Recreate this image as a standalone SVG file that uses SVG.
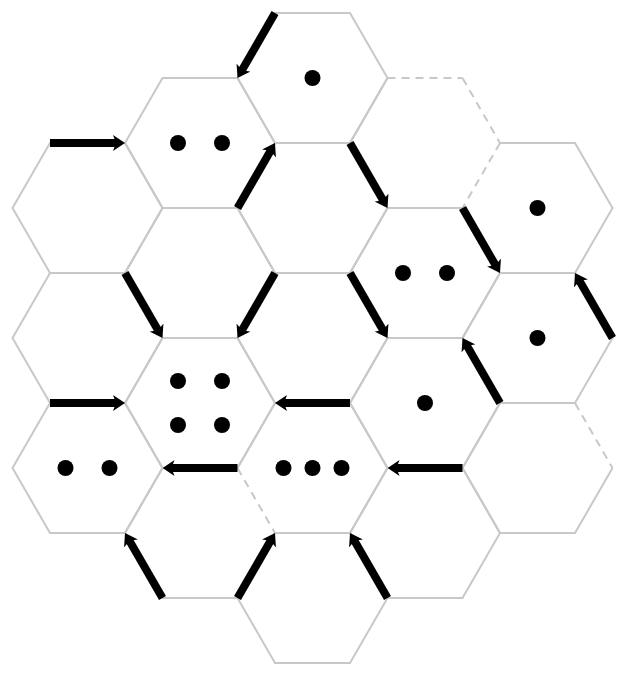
<svg xmlns="http://www.w3.org/2000/svg" width="624" height="676" viewBox="0 0 624 676">
<style>
.hex{fill:none;stroke:#c8c8c8;stroke-width:2;stroke-linejoin:miter}
.dash{fill:none;stroke:#c8c8c8;stroke-width:2;stroke-dasharray:8 6}
.arr{stroke:#000;stroke-width:8;stroke-linecap:butt;marker-end:url(#ah)}
.dot{fill:#000}
</style>
<defs>
<marker id="ah" markerUnits="userSpaceOnUse" viewBox="0 0 12 16" refX="4" refY="8" markerWidth="12" markerHeight="16" orient="auto">
<path d="M0,0 L12,8 L0,16 L3,8 z" fill="#000"/>
</marker>
</defs>
<rect width="624" height="676" fill="#fff"/>
<g id="hexes">
<g id="h0-208"><path class="hex" d="M50,143 L125,143 L162.5,208 L125,273 L50,273 L12.5,208 Z"/></g>
<g id="h0-338"><path class="hex" d="M50,273 L125,273 L162.5,338 L125,403 L50,403 L12.5,338 Z"/></g>
<g id="h0-468"><path class="hex" d="M50,403 L125,403 L162.5,468 L125,533 L50,533 L12.5,468 Z"/><circle class="dot" cx="65.5" cy="468" r="8"/><circle class="dot" cx="109.5" cy="468" r="8"/></g>
<g id="h1-143"><path class="hex" d="M162.5,78 L237.5,78 L275,143 L237.5,208 L162.5,208 L125,143 Z"/><circle class="dot" cx="178" cy="143" r="8"/><circle class="dot" cx="222" cy="143" r="8"/></g>
<g id="h1-273"><path class="hex" d="M162.5,208 L237.5,208 L275,273 L237.5,338 L162.5,338 L125,273 Z"/></g>
<g id="h1-403"><path class="hex" d="M162.5,338 L237.5,338 L275,403 L237.5,468 L162.5,468 L125,403 Z"/><circle class="dot" cx="178" cy="381" r="8"/><circle class="dot" cx="222" cy="381" r="8"/><circle class="dot" cx="178" cy="425" r="8"/><circle class="dot" cx="222" cy="425" r="8"/></g>
<g id="h1-533"><path class="hex" d="M275,533 L237.5,598 L162.5,598 L125,533 L162.5,468 L237.5,468"/></g>
<g id="h2-78"><path class="hex" d="M275,13 L350,13 L387.5,78 L350,143 L275,143 L237.5,78 Z"/><circle class="dot" cx="312.5" cy="78" r="8"/></g>
<g id="h2-208"><path class="hex" d="M275,143 L350,143 L387.5,208 L350,273 L275,273 L237.5,208 Z"/></g>
<g id="h2-338"><path class="hex" d="M275,273 L350,273 L387.5,338 L350,403 L275,403 L237.5,338 Z"/></g>
<g id="h2-468"><path class="hex" d="M237.5,468 L275,403 L350,403 L387.5,468 L350,533 L275,533"/><circle class="dot" cx="283.5" cy="468" r="8"/><circle class="dot" cx="312.5" cy="468" r="8"/><circle class="dot" cx="341.5" cy="468" r="8"/></g>
<g id="h2-598"><path class="hex" d="M275,533 L350,533 L387.5,598 L350,663 L275,663 L237.5,598 Z"/></g>
<g id="h3-143"><path class="hex" d="M462.5,208 L387.5,208 L350,143 L387.5,78"/></g>
<g id="h3-273"><path class="hex" d="M387.5,208 L462.5,208 L500,273 L462.5,338 L387.5,338 L350,273 Z"/><circle class="dot" cx="403" cy="273" r="8"/><circle class="dot" cx="447" cy="273" r="8"/></g>
<g id="h3-403"><path class="hex" d="M387.5,338 L462.5,338 L500,403 L462.5,468 L387.5,468 L350,403 Z"/><circle class="dot" cx="425" cy="403" r="8"/></g>
<g id="h3-533"><path class="hex" d="M387.5,468 L462.5,468 L500,533 L462.5,598 L387.5,598 L350,533 Z"/></g>
<g id="h4-208"><path class="hex" d="M500,143 L575,143 L612.5,208 L575,273 L500,273 L462.5,208"/><circle class="dot" cx="537.5" cy="208" r="8"/></g>
<g id="h4-338"><path class="hex" d="M500,273 L575,273 L612.5,338 L575,403 L500,403 L462.5,338 Z"/><circle class="dot" cx="537.5" cy="338" r="8"/></g>
<g id="h4-468"><path class="hex" d="M612.5,468 L575,533 L500,533 L462.5,468 L500,403 L575,403"/></g>
</g>
<g id="dashed">
<path class="dash" d="M387.5,78 L462.5,78"/>
<path class="dash" d="M462.5,78 L500,143"/>
<path class="dash" d="M500,143 L462.5,208"/>
<path class="dash" d="M575,403 L612.5,468"/>
<path class="dash" d="M237.5,468 L275,533"/>
</g>
<g id="connectors">
<line class="arr" x1="275" y1="13" x2="241.5" y2="71.07"/>
<line class="arr" x1="50" y1="143" x2="117" y2="143"/>
<line class="arr" x1="237.5" y1="208" x2="271" y2="149.93"/>
<line class="arr" x1="350" y1="143" x2="383.5" y2="201.07"/>
<line class="arr" x1="462.5" y1="208" x2="496" y2="266.07"/>
<line class="arr" x1="612.5" y1="338" x2="579" y2="279.93"/>
<line class="arr" x1="125" y1="273" x2="158.5" y2="331.07"/>
<line class="arr" x1="275" y1="273" x2="241.5" y2="331.07"/>
<line class="arr" x1="350" y1="273" x2="383.5" y2="331.07"/>
<line class="arr" x1="500" y1="403" x2="466.5" y2="344.93"/>
<line class="arr" x1="50" y1="403" x2="117" y2="403"/>
<line class="arr" x1="350" y1="403" x2="283" y2="403"/>
<line class="arr" x1="237.5" y1="468" x2="170.5" y2="468"/>
<line class="arr" x1="462.5" y1="468" x2="395.5" y2="468"/>
<line class="arr" x1="162.5" y1="598" x2="129" y2="539.93"/>
<line class="arr" x1="237.5" y1="598" x2="271" y2="539.93"/>
<line class="arr" x1="387.5" y1="598" x2="354" y2="539.93"/>
</g>
</svg>
